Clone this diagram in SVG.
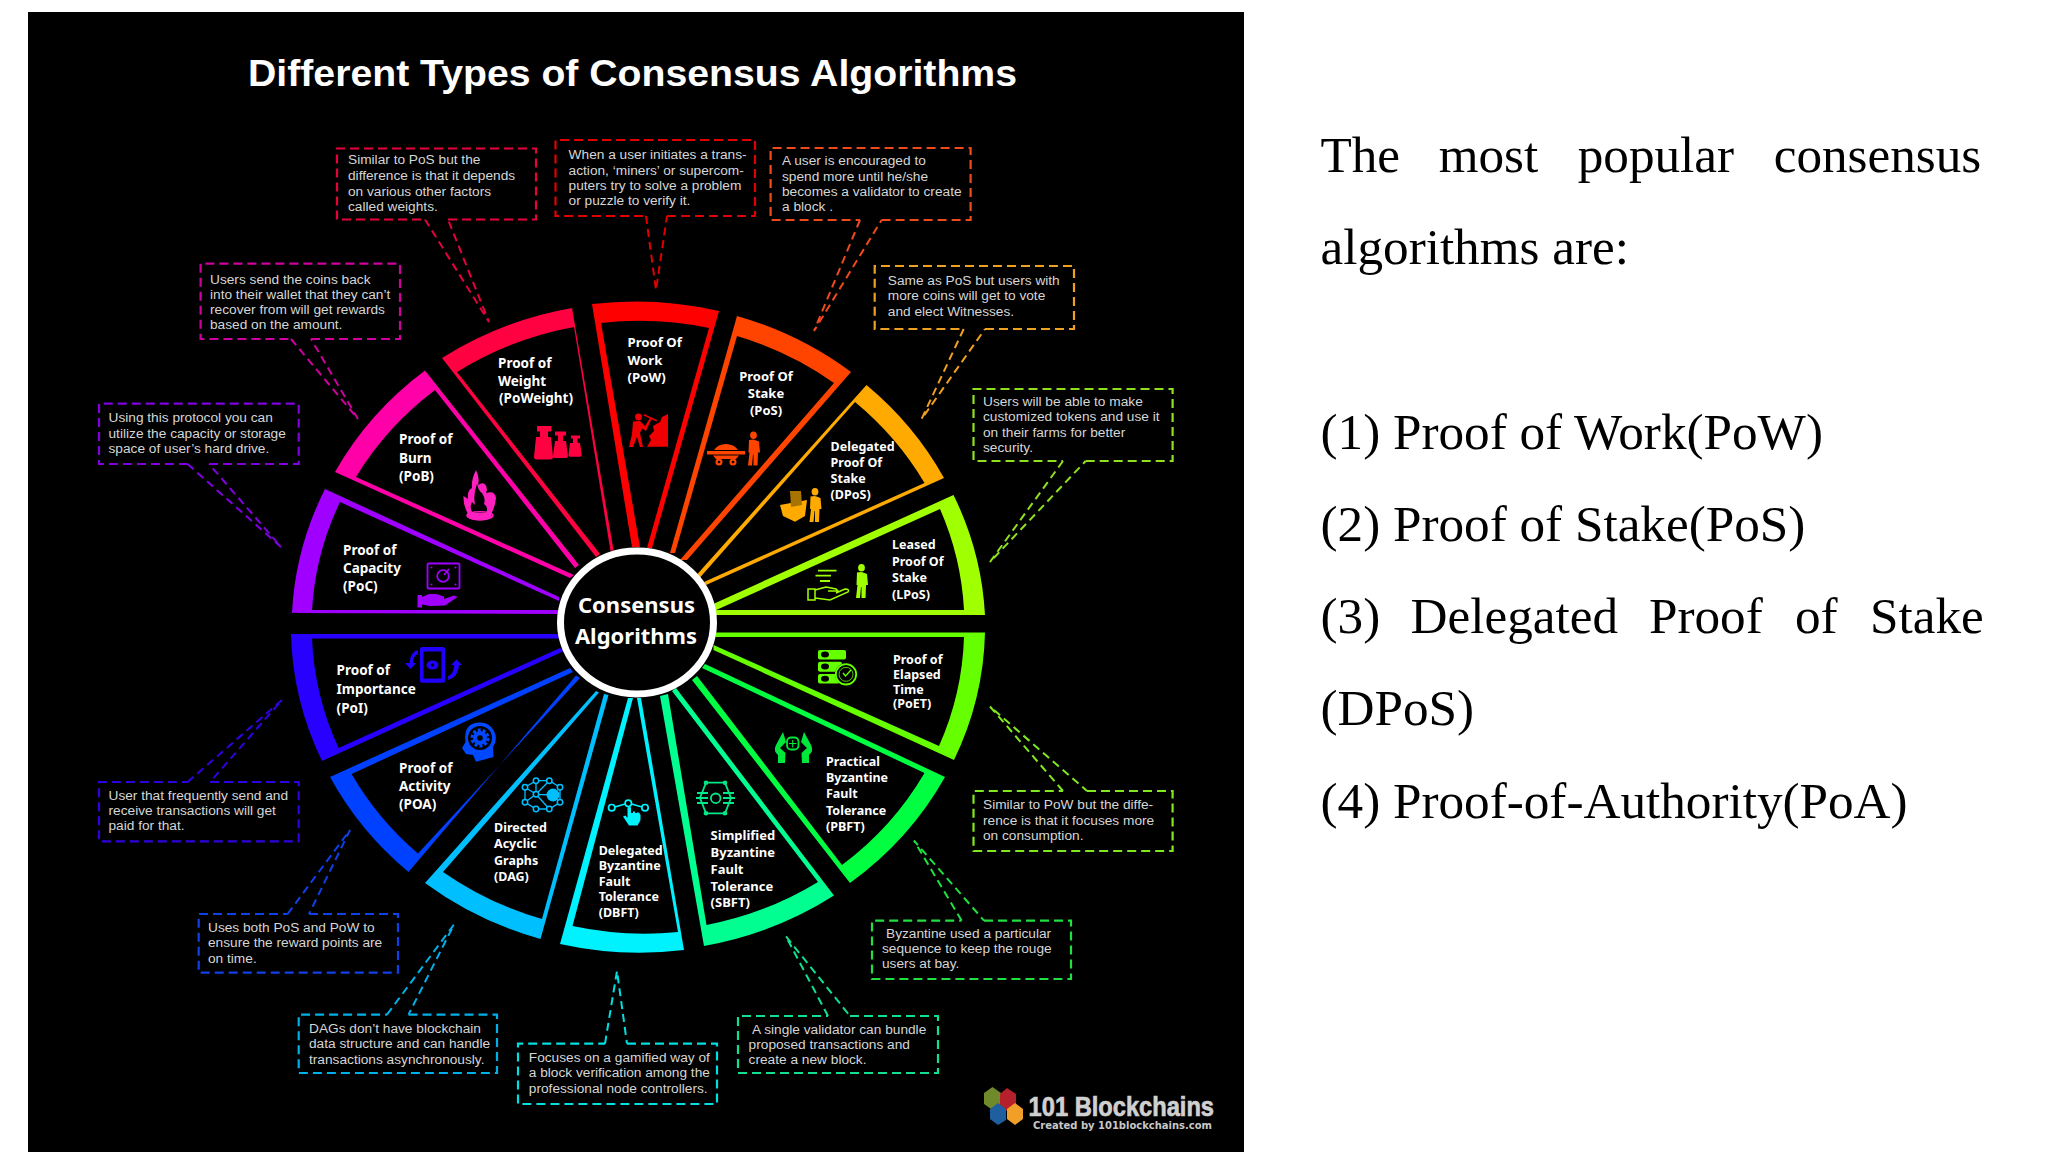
<svg xmlns="http://www.w3.org/2000/svg" width="2048" height="1152" viewBox="0 0 2048 1152">
<style>
.c{font-family:"Liberation Sans",Arial,sans-serif;font-size:13.7px;fill:#d6d6d6}
.l{font-family:"Noto Sans","Open Sans",sans-serif;font-weight:700;font-size:13.5px;fill:#fff}
.r{font-family:"Liberation Serif","Times New Roman",serif;font-size:51.2px;fill:#000}
.b{fill:none;stroke-width:2.2;stroke-dasharray:9 5}
.t{fill:none;stroke-width:2;stroke-dasharray:8 5}
</style>
<defs>
<path id="person" d="M6.500,0A3.400,3.800 0 0 1 6.500,7.600A3.400,3.800 0 0 1 6.500,0ZM2,8.500L6,8L8,8.500L12,10L13,21H11L10.500,34H6.500V23H6L5,34H1L2.500,21H1.500Z"/>
</defs>
<rect width="2048" height="1152" fill="#fff"/>
<rect x="28" y="12" width="1216" height="1140" fill="#000"/>
<text x="248" y="85.500" font-family="Liberation Sans,Arial,sans-serif" font-weight="700" font-size="36" fill="#fff" textLength="769" lengthAdjust="spacingAndGlyphs">Different Types of Consensus Algorithms</text>

<g id="connectors">
<path class="t" stroke="#e6003c" d="M425,219.500L489,322L448,219.500"/>
<path class="t" stroke="#e00000" d="M646,216L656,290L667,216"/>
<path class="t" stroke="#f04a1c" d="M860,220L814,331L881.600,220"/>
<path class="t" stroke="#f0a020" d="M963.700,329L921.600,419L985,329"/>
<path class="t" stroke="#90e020" d="M1063,461L990,562L1085.700,461"/>
<path class="t" stroke="#80e820" d="M1063,791L990,706.500L1087,791"/>
<path class="t" stroke="#20e040" d="M961.600,920.600L914,840.600L984,920.600"/>
<path class="t" stroke="#10e090" d="M828,1016L785.700,936L850,1016"/>
<path class="t" stroke="#00e0e0" d="M605,1043.600L617,971L627,1043.600"/>
<path class="t" stroke="#00b0e8" d="M387,1014.600L454,924.500L408.500,1014.600"/>
<path class="t" stroke="#1040e8" d="M287.600,914L350,830L309,914"/>
<path class="t" stroke="#3000e0" d="M187.600,782L282,700L210,782"/>
<path class="t" stroke="#8000e0" d="M187.600,464L281,547L209,464"/>
<path class="t" stroke="#d000a0" d="M291,339L358,419L311,339"/>
</g>

<g id="pow">
<path fill="#ff0000" d="M592,304A347,325 0 0 1 719,311L709,328A325,305 0 0 0 601,323ZM592,304L601,323L640,547L632,547ZM719,311L709,328L647,548L652,548Z"/>
<g fill="#f00000"><path d="M668,414V446.700H647L651,440L649,436L654,431L653,426L660,422L662,417Z"/><circle cx="638.500" cy="417" r="3.400"/><path d="M633,421.500L640,421L645,426L650,418L651.500,419L646,431L642,428.500L640,433L643,447H640L637,437L633,447H629L632,434Z"/><path d="M644,414L657,420L656.500,421.500L643.500,415.500Z"/></g>
<path class="b" stroke="#e00000" d="M667,216H755V140H555.500V216H646"/>
<text class="l" style="font-size:13.200px"><tspan x="627.500" y="347.400">Proof Of</tspan><tspan x="627.500" y="364.700">Work</tspan><tspan x="627.500" y="382">(PoW)</tspan></text>
<text class="c"><tspan x="568.600" y="159">When a user initiates a trans-</tspan><tspan x="568.600" y="174.600">action, ‘miners’ or supercom-</tspan><tspan x="568.600" y="190">puters try to solve a problem</tspan><tspan x="568.600" y="205">or puzzle to verify it.</tspan></text>
</g>

<g id="pos">
<path fill="#ff4400" d="M737,316A347,325 0 0 1 851,372L834,383A325,305 0 0 0 737,336ZM737,316L737,336L675,553L670,553ZM851,372L834,383L680,560L687,560Z"/>
<g fill="#ff4400"><path d="M714,450Q718,444 726,444Q734,444 738,450ZM707,451H745V454.500H707ZM713,455.500H739L736,459H716Z"/><circle cx="719" cy="462" r="3.500"/><circle cx="733" cy="462" r="3.500"/><use href="#person" x="747" y="431.500"/></g>
<g fill="#000"><circle cx="719" cy="462" r="1.300"/><circle cx="733" cy="462" r="1.300"/></g>
<path class="b" stroke="#f04a1c" d="M881.600,220H970.600V148H770.600V220H860"/>
<text class="l" text-anchor="middle" style="font-size:13px"><tspan x="766" y="381">Proof Of</tspan><tspan x="766" y="398">Stake</tspan><tspan x="766" y="414.700">(PoS)</tspan></text>
<text class="c"><tspan x="782" y="165">A user is encouraged to</tspan><tspan x="782" y="180.500">spend more until he/she</tspan><tspan x="782" y="195.600">becomes a validator to create</tspan><tspan x="782" y="211">a block .</tspan></text>
</g>

<g id="dpos">
<path fill="#ffaa00" d="M866.500,385A347,325 0 0 1 944,478L924.500,483A325,305 0 0 0 855,402ZM866.500,385L855,402L700,577.500L697,574.500ZM944,478L924.500,483L704,582L706,585Z"/>
<g fill="#ffaa00"><path d="M780,505L807,500L805,516L795,521.700L783,516Z"/><path fill="#a87400" d="M790,491L801,491L802,505L791,507Z"/><use href="#person" x="808.500" y="488"/></g>
<path class="b" stroke="#f0a020" d="M985,329H1074V266H874.700V329H963.700"/>
<text class="l" style="font-size:12.500px"><tspan x="830.600" y="450.700">Delegated</tspan><tspan x="830.600" y="467">Proof Of</tspan><tspan x="830.600" y="482.800">Stake</tspan><tspan x="830.600" y="499">(DPoS)</tspan></text>
<text class="c"><tspan x="887.800" y="284.500">Same as PoS but users with</tspan><tspan x="887.800" y="300">more coins will get to vote</tspan><tspan x="887.800" y="315.500">and elect Witnesses.</tspan></text>
</g>

<g id="lpos">
<path fill="#a0ff00" d="M953.500,495A347,325 0 0 1 985,615L964,610A325,305 0 0 0 940,509ZM953.500,495L940,509L714,611L711,605ZM985,615L964,610H715V615Z"/>
<g><path fill="none" stroke="#a0ff00" stroke-width="1.500" d="M808,589H815V600H808ZM815,590L826,587L836,589L838,591H828M815,598L830,600L848,592Q850,589 845,589L836,593"/><path fill="none" stroke="#a0ff00" stroke-width="1.800" d="M818,570.700H836.500M815.500,575.700H831M820,581H830"/><use href="#person" fill="#a0ff00" x="855" y="564"/></g>
<path class="b" stroke="#90e020" d="M1085.700,461H1172.600V389H973.500V461H1063"/>
<text class="l" style="font-size:12.500px"><tspan x="892" y="549">Leased</tspan><tspan x="892" y="565.500">Proof Of</tspan><tspan x="892" y="582">Stake</tspan><tspan x="892" y="599">(LPoS)</tspan></text>
<text class="c"><tspan x="983" y="406">Users will be able to make</tspan><tspan x="983" y="421.400">customized tokens and use it</tspan><tspan x="983" y="436.500">on their farms for better</tspan><tspan x="983" y="452">security.</tspan></text>
</g>

<g id="poet">
<path fill="#66ff00" d="M985,632.500A347,325 0 0 1 954,760L939,746A325,305 0 0 0 964,637ZM985,632.500L964,637H715.500V632.500ZM954,760L939,746L713.500,645V650Z"/>
<g><rect x="818" y="650" width="28" height="9.500" rx="2" fill="#66ff00"/><rect x="818" y="661.700" width="24" height="10" rx="2" fill="#66ff00"/><rect x="818" y="674" width="22" height="9.500" rx="2" fill="#66ff00"/><g fill="#000"><ellipse cx="825" cy="654.500" rx="4" ry="3"/><ellipse cx="825" cy="666.500" rx="4" ry="3"/><ellipse cx="825" cy="678.700" rx="4" ry="3"/></g><circle cx="846" cy="674.300" r="11" fill="#000"/><circle cx="846" cy="674.300" r="10.200" fill="none" stroke="#66ff00" stroke-width="1.800"/><circle cx="846" cy="674.300" r="7" fill="none" stroke="#66ff00" stroke-width=".8"/><path fill="none" stroke="#66ff00" stroke-width="1.400" d="M843,673L845.500,676L851,670"/></g>
<path class="b" stroke="#80e820" d="M1087,791H1172.600V851H973.500V791H1063"/>
<text class="l" style="font-size:12.500px"><tspan x="893" y="663.800">Proof of</tspan><tspan x="893" y="678.700">Elapsed</tspan><tspan x="893" y="693.600">Time</tspan><tspan x="893" y="708">(PoET)</tspan></text>
<text class="c"><tspan x="983" y="809">Similar to PoW but the diffe-</tspan><tspan x="983" y="824.600">rence is that it focuses more</tspan><tspan x="983" y="840">on consumption.</tspan></text>
</g>

<g id="pbft">
<path fill="#00ff40" d="M945,777A347,325 0 0 1 850,883L842,865A325,305 0 0 0 924.500,773ZM945,777L924.500,773L702,668L705,664ZM850,883L842,865L697,676L692,680Z"/>
<g fill="#00e83a"><path d="M783,732L776,745Q773,751 778,755L778,763H785L785.500,753L780,748L786,742Z"/><path d="M804,732L811,745Q814,751 809,755L809,763H802L801.500,753L807,748L801,742Z"/></g>
<rect x="787" y="737.500" width="11.500" height="12" rx="4" fill="none" stroke="#00e83a" stroke-width="1.800"/><path fill="none" stroke="#00e83a" stroke-width="1.100" d="M789,743.500H796.500M792.700,740V747.500"/>
<path class="b" stroke="#20e040" d="M984,920.600H1071V979H872V920.600H961.600"/>
<text class="l" style="font-size:12.500px"><tspan x="826" y="765.600">Practical</tspan><tspan x="826" y="782">Byzantine</tspan><tspan x="826" y="798">Fault</tspan><tspan x="826" y="815">Tolerance</tspan><tspan x="826" y="831">(PBFT)</tspan></text>
<text class="c"><tspan x="886" y="938">Byzantine used a particular</tspan><tspan x="882" y="953">sequence to keep the rouge</tspan><tspan x="882" y="968">users at bay.</tspan></text>
</g>

<g id="sbft">
<path fill="#00ff90" d="M834,895.500A347,325 0 0 1 704,946L706.500,925A325,305 0 0 0 818,882ZM834,895.500L818,882L672,691L676,688ZM704,946L706.500,925L668,694L660,696Z"/>
<g fill="none" stroke="#00e888" stroke-width="1.800"><path d="M706,782.700H725L731,798L725,813.300H706L700,798Z"/><circle cx="715.700" cy="798.300" r="4.800"/><path d="M697,793H708M696,798H708M697,803H708M723,793H734M723,798H735M723,803H734"/></g>
<g fill="#00e888"><circle cx="706" cy="782.700" r="2.300"/><circle cx="725" cy="782.700" r="2.300"/><circle cx="706" cy="813.300" r="2.300"/><circle cx="725" cy="813.300" r="2.300"/></g>
<path class="b" stroke="#10e090" d="M850,1016H938V1073H738V1016H828"/>
<text class="l" style="font-size:13px"><tspan x="710.600" y="840">Simplified</tspan><tspan x="710.600" y="857">Byzantine</tspan><tspan x="710.600" y="874">Fault</tspan><tspan x="710.600" y="890.500">Tolerance</tspan><tspan x="710.600" y="907">(SBFT)</tspan></text>
<text class="c"><tspan x="752" y="1033.600">A single validator can bundle</tspan><tspan x="748.600" y="1048.600">proposed transactions and</tspan><tspan x="748.600" y="1064">create a new block.</tspan></text>
</g>

<g id="dbft">
<path fill="#00f2ff" d="M684,950A347,325 0 0 1 560,944L572.500,926A325,305 0 0 0 678,932ZM684,950L678,932L637,698H641ZM560,944L572.500,926L633,698H628Z"/>
<g fill="none" stroke="#00f2ff" stroke-width="1.700"><circle cx="611.700" cy="807.700" r="3.200"/><circle cx="628.300" cy="803.300" r="3.200"/><circle cx="645" cy="807.700" r="3.200"/><path d="M615,807L625,804M631.500,804L642,807"/></g>
<path fill="#00f2ff" d="M627.500,807.500Q629.500,806 631,807.500V813H633V811.500H635V813H637V812.500H639L640.500,815V820L637.500,825.500H629L623,816.500L625.500,815.500L627.500,818Z"/>
<path class="b" stroke="#00e0e0" d="M627,1043.600H717V1104H518V1043.600H605"/>
<text class="l" style="font-size:12.500px"><tspan x="598.700" y="854.700">Delegated</tspan><tspan x="598.700" y="870">Byzantine</tspan><tspan x="598.700" y="885.600">Fault</tspan><tspan x="598.700" y="901">Tolerance</tspan><tspan x="598.700" y="917">(DBFT)</tspan></text>
<text class="c"><tspan x="528.800" y="1062.400">Focuses on a gamified way of</tspan><tspan x="528.800" y="1077">a block verification among the</tspan><tspan x="528.800" y="1092.500">professional node controllers.</tspan></text>
</g>

<g id="dag">
<path fill="#00bfff" d="M540.500,939A347,325 0 0 1 425,883L443,872A325,305 0 0 0 542,919ZM540.500,939L542,919L604,694L608.500,695ZM425,883L443,872L599,692.500L596,691Z"/>
<g fill="none" stroke="#00bfff" stroke-width="1.300"><path d="M536,780.700H549.300L560,787.300V802.300L549.300,809H536L525,802.300V787.300ZM536,794.300L549.300,780.700M536,794.300L525,787.300M536,794.300L525,802.300M536,794.300L553,795M536,780.700V794.300M536,794.300L549.300,809"/></g>
<g fill="#000" stroke="#00bfff" stroke-width="1.500"><circle cx="525" cy="787.300" r="2.700"/><circle cx="536" cy="780.700" r="2.700"/><circle cx="549.300" cy="780.700" r="2.700"/><circle cx="560" cy="787.300" r="2.700"/><circle cx="560" cy="802.300" r="2.700"/><circle cx="549.300" cy="809" r="2.700"/><circle cx="536" cy="809" r="2.700"/><circle cx="525" cy="802.300" r="2.700"/><circle cx="536" cy="794.300" r="2.700"/></g>
<circle cx="553" cy="795" r="6.500" fill="#00bfff"/>
<path class="b" stroke="#00b0e8" d="M408.500,1014.600H497V1073H298.700V1014.600H387"/>
<text class="l" style="font-size:12.500px"><tspan x="494" y="831.500">Directed</tspan><tspan x="494" y="848">Acyclic</tspan><tspan x="494" y="864.600">Graphs</tspan><tspan x="494" y="881">(DAG)</tspan></text>
<text class="c"><tspan x="309" y="1033.400">DAGs don’t have blockchain</tspan><tspan x="309" y="1048">data structure and can handle</tspan><tspan x="309" y="1064">transactions asynchronously.</tspan></text>
</g>

<g id="poa">
<path fill="#0040ff" d="M408.500,872A347,325 0 0 1 330,777L351.600,774A325,305 0 0 0 418,853.600ZM408.500,872L418,853.600L580,678L576,675.500ZM330,777L351.600,774L573,672L570,668Z"/>
<path fill="#0048ff" d="M480,722.500A15.700,15.700 0 0 1 493,747L493.500,757L476,761.700L473,755L466,754L462,748L465.500,742Q463,722.500 480,722.500Z"/>
<circle cx="480" cy="738" r="12" fill="#000"/>
<circle cx="480" cy="738" r="7" fill="#0048ff"/><circle cx="480" cy="738" r="8" fill="none" stroke="#0048ff" stroke-width="3" stroke-dasharray="3 2.030"/><circle cx="480" cy="738" r="2.800" fill="#000"/>
<path class="b" stroke="#1040e8" d="M309,914H398V972.700H198.700V914H287.600"/>
<text class="l"><tspan x="399" y="772.700">Proof of</tspan><tspan x="399" y="791">Activity</tspan><tspan x="399" y="809">(POA)</tspan></text>
<text class="c"><tspan x="208" y="932">Uses both PoS and PoW to</tspan><tspan x="208" y="947.300">ensure the reward points are</tspan><tspan x="208" y="963">on time.</tspan></text>
</g>

<g id="poi">
<path fill="#2800ff" d="M322,761A347,325 0 0 1 291,634L312,638.500A325,305 0 0 0 338.600,748ZM322,761L338.600,748L560,648L564,651ZM291,634L312,638.500H559V634Z"/>
<rect x="420" y="647" width="25" height="35.700" rx="2" fill="#2000ff"/><rect x="423.500" y="651.500" width="18" height="27" fill="#000"/><ellipse cx="432.500" cy="665" rx="6" ry="4.500" fill="#2000ff"/><circle cx="432.500" cy="665" r="1.600" fill="#000"/>
<path fill="#2000ff" d="M405,663L410.500,669L416,663H413Q413,656 418,654V650Q410,652 409.500,663ZM462,665L456.500,659.500L451,665H454Q454,674 448,676V680Q458,678 459,665Z"/>
<path class="b" stroke="#3000e0" d="M210,782H298.700V841.400H99V782H187.600"/>
<text class="l"><tspan x="336.600" y="675">Proof of</tspan><tspan x="336.600" y="694">Importance</tspan><tspan x="336.600" y="713">(PoI)</tspan></text>
<text class="c"><tspan x="108.500" y="800">User that frequently send and</tspan><tspan x="108.500" y="815">receive transactions will get</tspan><tspan x="108.500" y="830.400">paid for that.</tspan></text>
</g>

<g id="poc">
<path fill="#a000ff" d="M292,613A347,325 0 0 1 325,489L340,502A325,305 0 0 0 312,610ZM292,613L312,610H559V614ZM325,489L340,502L559,601L559,597Z"/>
<g fill="none" stroke="#a000ff" stroke-width="1.800"><rect x="427.500" y="563.500" width="32" height="25" rx="1"/><circle cx="443" cy="576" r="5.800"/><path d="M444,575L449,569"/></g>
<g fill="#a000ff"><circle cx="431.500" cy="567.500" r="1"/><circle cx="455.500" cy="567.500" r="1"/><circle cx="431.500" cy="584.500" r="1"/><circle cx="455.500" cy="584.500" r="1"/></g>
<path fill="#a000ff" d="M417.500,595H422V597L429,594H436L444,596.500V599L454,595.500L457.500,597L445,605.500L430,606L422,604.500V607.500H417.500Z"/>
<path class="b" stroke="#8000e0" d="M209,464H298.700V403.700H99V464H187.600"/>
<text class="l"><tspan x="343" y="555">Proof of</tspan><tspan x="343" y="573">Capacity</tspan><tspan x="343" y="590.700">(PoC)</tspan></text>
<text class="c"><tspan x="108.500" y="421.700">Using this protocol you can</tspan><tspan x="108.500" y="437.500">utilize the capacity or storage</tspan><tspan x="108.500" y="453">space of user’s hard drive.</tspan></text>
</g>

<g id="pob">
<path fill="#ff00a8" d="M335,472A347,325 0 0 1 425,370.600L435,390A325,305 0 0 0 356,477ZM335,472L356,477L574,575L570,578ZM425,370.600L435,390L575,568L579,565Z"/>
<g><path fill="#ff20c0" d="M476,470Q480,478 478,485Q486,480 487,490L486,493Q495,490 496,498Q495,508 491,514Q495,520 480,520.700Q466,520 468,514Q463,505 463.500,496L468,499Q467,490 472,488Q471,480 476,470Z"/><path fill="#000" d="M477,484Q479,492 482,493Q486,499 484,504Q489,507 486,513H473Q469,508 472,502L475,505Q473,494 477,484Z"/><ellipse cx="480" cy="515.500" rx="13" ry="3.800" fill="none" stroke="#ff20c0" stroke-width="1.600"/></g>
<path class="b" stroke="#d000a0" d="M311,339H400V263.600H200.600V339H291"/>
<text class="l"><tspan x="399" y="444">Proof of</tspan><tspan x="399" y="462.500">Burn</tspan><tspan x="399" y="480.500">(PoB)</tspan></text>
<text class="c"><tspan x="210" y="283.500">Users send the coins back</tspan><tspan x="210" y="298.500">into their wallet that they can’t</tspan><tspan x="210" y="314">recover from will get rewards</tspan><tspan x="210" y="328.700">based on the amount.</tspan></text>
</g>

<g id="poweight">
<path fill="#ff0040" d="M442,358A347,325 0 0 1 572,308L574,327A325,305 0 0 0 457,372ZM442,358L457,372L600,554L596,557ZM572,308L574,327L610.500,551L613.500,550Z"/>
<g fill="#ff0040"><path d="M537,426H551.500V431.500H548V437H551L553,457Q553,459.500 550,459.500H537Q534,459.500 534,457L536,437H540V431.500H537Z"/><path d="M555,431.500H566V435.500H563V441H566L568,456Q568,458 566,458H555Q552.500,458 553,456L555,441H558V435.500H555Z"/><path d="M571,435.500H580V438.500H577.500V443H580L581.700,455Q581.700,456.700 580,456.700H570Q568,456.700 568.500,455L570,443H573V438.500H571Z"/></g>
<path class="b" stroke="#e6003c" d="M448,219.500H536V148.500H337V219.500H425"/>
<text class="l"><tspan x="498" y="368">Proof of</tspan><tspan x="498" y="386">Weight</tspan><tspan x="499" y="403">(PoWeight)</tspan></text>
<text class="c"><tspan x="348" y="164">Similar to PoS but the</tspan><tspan x="348" y="180">difference is that it depends</tspan><tspan x="348" y="195.600">on various other factors</tspan><tspan x="348" y="210.700">called weights.</tspan></text>
</g>

<g id="hub">
<ellipse cx="637" cy="622.500" rx="76.500" ry="71.500" fill="#000" stroke="#fff" stroke-width="7"/>
<text font-family="Noto Sans,Open Sans,sans-serif" font-weight="700" font-size="22" fill="#fff" text-anchor="middle"><tspan x="636.500" y="612.800">Consensus</tspan><tspan x="636" y="644">Algorithms</tspan></text>
</g>

<g id="logo">
<path fill="#6f8a2a" d="M992.500,1087L1001,1093V1104L992.500,1110L984,1104V1093Z"/>
<path fill="#b5202a" d="M1007,1088L1016,1094V1105L1007,1111L1000,1105V1094Z"/>
<path fill="#1f5f9f" d="M998,1103L1006,1109V1120L998,1125L990,1119V1109Z"/>
<path fill="#f0a028" d="M1015,1103L1023,1109V1119L1015,1125L1007,1119V1109Z"/>
<text x="1028.600" y="1116" font-family="Liberation Sans,Arial,sans-serif" font-weight="700" font-size="28" fill="#d0d0d0" stroke="#d0d0d0" stroke-width=".7" textLength="185.400" lengthAdjust="spacingAndGlyphs">101 Blockchains</text>
<text x="1033" y="1129" font-family="DejaVu Sans,sans-serif" font-weight="700" font-size="10" fill="#c8c8c8" textLength="179" lengthAdjust="spacingAndGlyphs">Created by 101blockchains.com</text>
</g>

<g id="body">
<text class="r" y="172"><tspan x="1320.500">The</tspan><tspan x="1438.700">most</tspan><tspan x="1577.700">popular</tspan><tspan x="1773.700">consensus</tspan></text>
<text class="r" x="1320.500" y="264">algorithms are:</text>
<text class="r" x="1320.500" y="448.500">(1) Proof of Work(PoW)</text>
<text class="r" x="1320.500" y="541">(2) Proof of Stake(PoS)</text>
<text class="r" y="633"><tspan x="1320.500">(3)</tspan><tspan x="1410.500">Delegated</tspan><tspan x="1649">Proof</tspan><tspan x="1795">of</tspan><tspan x="1870">Stake</tspan></text>
<text class="r" x="1320.500" y="725">(DPoS)</text>
<text class="r" x="1320.500" y="817.500">(4) Proof-of-Authority(PoA)</text>
</g>
</svg>
